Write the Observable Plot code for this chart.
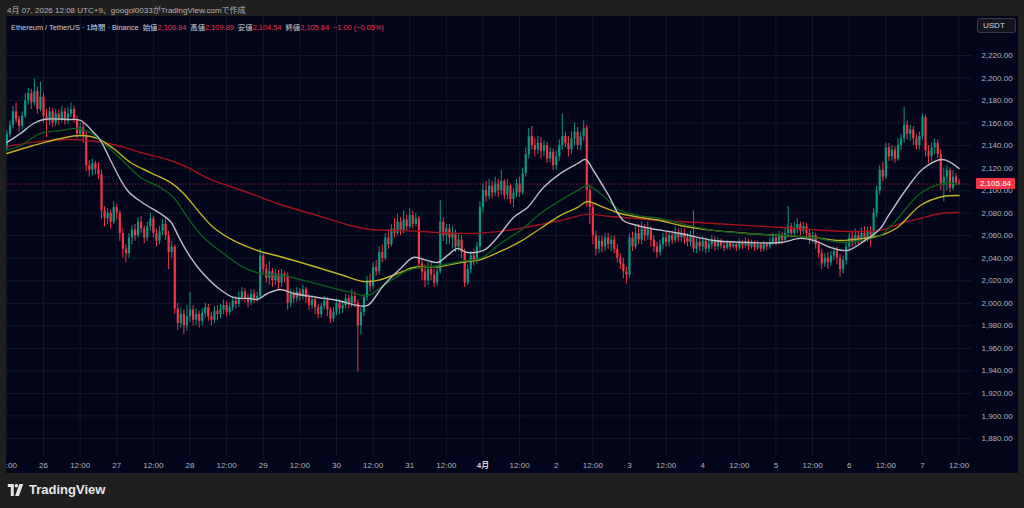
<!DOCTYPE html>
<html><head><meta charset="utf-8">
<script src="https://cdn.jsdelivr.net/npm/d3@7"></script>
<script src="https://cdn.jsdelivr.net/npm/@observablehq/plot@0.6"></script>
<style>
html,body{margin:0;padding:0;background:#1f1f1f;width:1024px;height:508px;overflow:hidden;}
body{font-family:"Liberation Sans","Noto Sans CJK JP",sans-serif;position:relative;}
#top{position:absolute;left:7px;top:4px;font-size:8px;color:#b4b4b4;white-space:nowrap;}
#panel{position:absolute;left:6px;top:16px;width:1012px;height:457px;background:#03051a;overflow:hidden;}
#legend{position:absolute;left:5px;top:5px;font-size:7.4px;color:#d1d4dc;white-space:nowrap;}
#legend .v{color:#f23645;margin-right:4px;}
#usdt{position:absolute;left:971px;top:2px;width:39px;height:15px;border:1px solid #3a3b45;border-radius:3px;background:#14151f;color:#d1d4dc;font-size:8px;line-height:13px;box-sizing:border-box;padding-left:5px;}
#badge{position:absolute;left:970px;width:39px;height:11px;background:#f23645;color:#fff;font-size:8px;line-height:11px;text-align:center;border-radius:1px;}
#footer{position:absolute;left:7px;top:482px;display:flex;align-items:center;color:#e6e6e6;font-size:13px;font-weight:bold;}
#footer svg{margin-right:5px;}
</style></head>
<body>
<div id="top">4月 07, 2026 12:08 UTC+9、googol0033がTradingView.comで作成</div>
<div id="panel">
  <div id="legend">Ethereum / TetherUS · 1時間 · Binance&nbsp;&nbsp;始値<span class="v">2,106.84</span>高値<span class="v">2,109.89</span>安値<span class="v">2,104.54</span>終値<span class="v">2,105.84</span><span class="v">−1.00 (−0.05%)</span></div>
  <div id="usdt">USDT</div>
</div>
<div id="footer"><svg width="17" height="12" viewBox="0 0 36 28"><path d="M0 0h14v28H7V7H0z" fill="#e6e6e6"/><circle cx="20" cy="4" r="4" fill="#e6e6e6"/><path d="M27 0h9L26 28h-9z" fill="#e6e6e6"/></svg>TradingView</div>
<script>
// ---- data (hour index 0 = 3/25 12:00, hourly candles) ----
const opens = [2138,2150,2158,2170,2163,2157,2166,2180,2186,2178,
2188,2172,2183,2166,2162,2170,2160,2168,2163,2170,
2162,2168,2172,2163,2150,2156,2148,2122,2118,2124,
2119,2114,2082,2075,2080,2072,2085,2080,2062,2048,
2044,2058,2065,2060,2072,2066,2058,2068,2075,2062,
2055,2064,2070,2060,2045,2050,1995,1982,1990,1980,
1988,1994,1985,1990,1984,1991,1996,1988,1985,1993,
1990,1994,1998,1992,1996,2002,1999,2005,2010,2004,
2001,2008,2004,2006,2042,2030,2022,2028,2020,2026,
2018,2026,2024,2000,2008,2004,2010,2006,2012,2005,
1998,2003,1996,1990,1997,2002,1994,1986,1992,2000,
1995,1998,2004,1999,2006,2000,1980,1992,2005,2020,
2015,2032,2028,2045,2040,2058,2052,2066,2062,2072,
2065,2074,2068,2078,2070,2075,2035,2028,2020,2030,
2025,2018,2028,2072,2060,2066,2058,2062,2050,2056,
2045,2018,2030,2042,2038,2050,2085,2100,2095,2104,
2098,2106,2100,2108,2096,2104,2092,2098,2106,2098,
2115,2132,2148,2140,2136,2142,2135,2140,2128,2134,
2122,2130,2140,2148,2142,2136,2146,2152,2140,2148,
2155,2100,2085,2060,2048,2055,2050,2058,2052,2056,
2048,2040,2035,2028,2025,2058,2050,2062,2056,2066,
2060,2065,2056,2050,2045,2052,2058,2054,2060,2056,
2062,2058,2062,2058,2054,2060,2048,2054,2050,2055,
2048,2052,2056,2050,2054,2051,2049,2053,2050,2052,
2049,2054,2051,2055,2050,2053,2049,2052,2048,2052,
2050,2054,2058,2054,2060,2056,2062,2068,2062,2066,
2070,2064,2068,2062,2056,2060,2052,2044,2035,2040,
2036,2042,2046,2040,2030,2038,2050,2058,2054,2060,
2056,2062,2058,2064,2060,2080,2100,2118,2112,2138,
2130,2136,2128,2140,2146,2158,2150,2154,2146,2140,
2148,2165,2135,2130,2138,2142,2132,2105,2112,2118,
2102,2112,2106.84];
const closes = [2150,2158,2170,2163,2157,2166,2180,2186,2178,2188,
2172,2183,2166,2162,2170,2160,2168,2163,2170,2162,
2168,2172,2163,2150,2156,2148,2122,2118,2124,2119,
2114,2082,2075,2080,2072,2085,2080,2062,2048,2044,
2058,2065,2060,2072,2066,2058,2068,2075,2062,2055,
2064,2070,2060,2045,2050,1995,1982,1990,1980,1988,
1994,1985,1990,1984,1991,1996,1988,1985,1993,1990,
1994,1998,1992,1996,2002,1999,2005,2010,2004,2001,
2008,2004,2006,2042,2030,2022,2028,2020,2026,2018,
2026,2024,2000,2008,2004,2010,2006,2012,2005,1998,
2003,1996,1990,1997,2002,1994,1986,1992,2000,1995,
1998,2004,1999,2006,2000,1980,1992,2005,2020,2015,
2032,2028,2045,2040,2058,2052,2066,2062,2072,2065,
2074,2068,2078,2070,2075,2035,2028,2020,2030,2025,
2018,2028,2072,2060,2066,2058,2062,2050,2056,2045,
2018,2030,2042,2038,2050,2085,2100,2095,2104,2098,
2106,2100,2108,2096,2104,2092,2098,2106,2098,2115,
2132,2148,2140,2136,2142,2135,2140,2128,2134,2122,
2130,2140,2148,2142,2136,2146,2152,2140,2148,2155,
2100,2085,2060,2048,2055,2050,2058,2052,2056,2048,
2040,2035,2028,2025,2058,2050,2062,2056,2066,2060,
2065,2056,2050,2045,2052,2058,2054,2060,2056,2062,
2058,2062,2058,2054,2060,2048,2054,2050,2055,2048,
2052,2056,2050,2054,2051,2049,2053,2050,2052,2049,
2054,2051,2055,2050,2053,2049,2052,2048,2052,2050,
2054,2058,2054,2060,2056,2062,2068,2062,2066,2070,
2064,2068,2062,2056,2060,2052,2044,2035,2040,2036,
2042,2046,2040,2030,2038,2050,2058,2054,2060,2056,
2062,2058,2064,2060,2080,2100,2118,2112,2138,2130,
2136,2128,2140,2146,2158,2150,2154,2146,2140,2148,
2165,2135,2130,2138,2142,2132,2105,2112,2118,2102,
2112,2106.84,2105.84];
const highs = [2153,2162,2175,2178,2166,2170,2186,2191,2190,2199,
2192,2196,2186,2172,2174,2173,2172,2171,2175,2173,
2174,2178,2175,2166,2160,2160,2152,2127,2128,2126,
2125,2118,2086,2084,2083,2090,2088,2082,2066,2052,
2062,2069,2070,2076,2077,2069,2072,2080,2077,2066,
2068,2074,2075,2064,2055,2052,2000,1996,1994,1998,
2010,1998,1995,1993,1995,2000,1999,1992,1997,1998,
1999,2003,2001,2000,2006,2006,2010,2014,2013,2008,
2012,2012,2010,2048,2045,2034,2037,2031,2030,2029,
2030,2028,2027,2012,2011,2014,2013,2016,2014,2008,
2007,2006,1999,2000,2006,2005,1996,1996,2004,2003,
2002,2008,2007,2012,2010,2003,1996,2008,2024,2026,
2036,2038,2050,2052,2062,2064,2070,2075,2079,2076,
2082,2078,2084,2082,2080,2077,2040,2034,2036,2036,
2030,2032,2091,2076,2070,2070,2068,2065,2062,2060,
2048,2034,2046,2048,2054,2090,2106,2108,2110,2108,
2112,2110,2118,2110,2110,2106,2102,2110,2112,2120,
2138,2155,2157,2146,2148,2147,2144,2143,2138,2137,
2135,2145,2168,2152,2148,2152,2160,2156,2152,2162,
2158,2105,2088,2064,2060,2060,2062,2062,2060,2060,
2052,2044,2040,2032,2062,2063,2068,2070,2072,2070,
2072,2068,2060,2054,2056,2062,2063,2064,2064,2068,
2066,2066,2066,2062,2064,2082,2058,2058,2059,2058,
2056,2060,2059,2058,2057,2054,2056,2055,2055,2054,
2057,2056,2058,2057,2056,2055,2055,2054,2055,2054,
2058,2062,2061,2064,2063,2067,2086,2071,2072,2075,
2072,2072,2071,2065,2063,2062,2055,2048,2044,2045,
2046,2050,2050,2043,2042,2055,2062,2063,2066,2064,
2067,2068,2068,2068,2084,2104,2122,2125,2142,2142,
2140,2139,2146,2150,2174,2162,2158,2157,2150,2152,
2168,2167,2140,2142,2146,2145,2136,2120,2122,2120,
2118,2115,2109.89];
const lows = [2135,2147,2155,2160,2152,2154,2164,2176,2172,2175,
2168,2170,2160,2147,2158,2156,2157,2158,2160,2158,
2159,2165,2160,2146,2147,2142,2117,2112,2113,2114,
2110,2075,2068,2070,2066,2070,2074,2055,2040,2036,
2040,2052,2055,2058,2062,2053,2055,2064,2058,2050,
2052,2060,2056,2030,2040,1990,1976,1978,1972,1975,
1983,1980,1980,1978,1980,1987,1984,1980,1982,1985,
1986,1990,1988,1989,1993,1995,1996,2002,2000,1996,
1998,2000,2001,2004,2026,2018,2016,2014,2016,2012,
2014,2018,1994,1996,2000,2001,2002,2003,2000,1994,
1995,1990,1986,1987,1994,1988,1982,1983,1989,1990,
1991,1995,1995,1996,1996,1939,1972,1988,2002,2010,
2012,2024,2025,2036,2038,2048,2050,2058,2060,2060,
2062,2064,2066,2066,2068,2030,2020,2014,2016,2020,
2014,2015,2026,2055,2052,2052,2048,2045,2046,2040,
2014,2016,2026,2033,2035,2046,2080,2090,2092,2093,
2095,2094,2096,2092,2092,2088,2085,2094,2094,2096,
2112,2128,2136,2130,2132,2128,2130,2124,2125,2118,
2118,2126,2136,2138,2130,2132,2140,2136,2136,2144,
2085,2070,2052,2042,2044,2045,2046,2048,2046,2044,
2036,2030,2022,2017,2022,2046,2048,2052,2052,2055,
2056,2050,2045,2040,2042,2048,2050,2050,2052,2053,
2054,2054,2052,2050,2050,2045,2044,2046,2046,2044,
2045,2048,2046,2047,2048,2046,2047,2047,2048,2046,
2047,2048,2049,2047,2048,2046,2047,2045,2046,2047,
2048,2051,2051,2052,2052,2054,2058,2058,2060,2062,
2060,2061,2058,2052,2053,2048,2040,2030,2032,2030,
2033,2038,2034,2023,2026,2034,2046,2050,2051,2052,
2053,2054,2054,2050,2058,2076,2096,2108,2110,2126,
2126,2124,2126,2136,2142,2145,2144,2140,2136,2136,
2145,2130,2124,2126,2132,2128,2100,2090,2100,2098,
2100,2104,2104.54];

// moving averages (hour, value)
const maWhiteHours = [0,4.5,8.7,12,19.9,24.1,28.4,30.7,34,39.5,44.8,50.3,53.6,56.9,60.2,63.4,69,74.2,79.8,82.1,85.4,89.6,93.9,101.8,108.3,114.9,118.2,123.4,129,133.2,137.8,141.1,144.4,147.6,150.9,156.2,160.7,166,170.6,175.8,181.4,187,189.6,192.2,196.8,202,206.6,210.9,220.7,231.5,242.7,253.5,260,264.3,270.8,275.4,280.7,286.2,288.5,295.1,300.3,306.6,312];
const maWhiteValues = [2142.8,2150.8,2159.6,2163.2,2163.2,2162.3,2151.6,2144.5,2126.8,2100.2,2088.6,2079.7,2072.6,2055.8,2040.7,2029.1,2014.1,2005.2,2004.3,2003.4,2008.7,2012.3,2008.7,2005.2,2002.5,1998.1,1998.1,2015.8,2030.9,2040.7,2038,2036.2,2042.5,2048.7,2045.1,2046.9,2058.4,2076.2,2085.1,2102.8,2115.3,2124.1,2127.7,2117.9,2097.5,2073.5,2069.1,2066.4,2062,2055.8,2054,2054,2057.6,2055.8,2048.7,2046.9,2054.9,2066.4,2076.2,2102.8,2119.7,2127.7,2119.7];
const maGreenHours = [0,4.5,11,17.6,23.1,27.4,30.7,37.2,43.8,50.3,54.6,59.2,64.4,71,77.5,83.1,90.6,97.2,106,112.6,118.2,123.4,131.3,135.5,142.1,148.6,155.2,161.7,168.3,174.8,181.4,187,190.2,194.5,201,206.6,214.1,220.7,231.5,242.7,253.5,264.3,273.1,280.7,286.2,290.5,299.3,306.6,312];
const maGreenValues = [2135.7,2140.1,2150.8,2153.4,2155.2,2151.6,2144.5,2128.6,2111.7,2102.8,2093.9,2076.2,2058.4,2044.2,2031.8,2026.5,2024.7,2020.3,2014.1,2009.6,2006.9,2015.8,2029.1,2031.8,2033.6,2037.1,2039.8,2053.1,2064.7,2079.7,2091.3,2100.2,2104.6,2097.5,2082.4,2078,2075.3,2070.9,2064.7,2062,2060.2,2058.4,2054,2055.8,2060.2,2070.9,2097.5,2106.4,2105.5];
const maYellowHours = [0,8.7,17.6,24.1,29.7,34.9,40.5,47,53.6,57.9,63.4,67.7,74.2,82.1,90.6,101.8,110.3,116.8,121.4,129,133.2,142.1,148.6,155.2,161.7,168.3,174.8,181.4,187,190.2,195.5,201,207.6,214.1,220.7,231.5,242.7,253.5,264.3,273.1,280.7,286.2,291.8,299.3,306.6,312];
const maYellowValues = [2133,2140.1,2146.3,2149,2146.3,2137.4,2125,2116.1,2107.3,2097.5,2079.7,2067.3,2055.8,2046.9,2040.7,2031.8,2024.7,2019.4,2020.3,2027.4,2031.8,2032.7,2036.2,2038.9,2046,2054.9,2066.4,2078,2085.1,2090.4,2085.1,2079.7,2076.2,2073.5,2069.1,2064.7,2062,2060.2,2058.4,2055.8,2057.6,2060.2,2067.3,2086.8,2094.8,2095.7];
const maRedHours = [0,11,19.9,26.4,34.9,43.8,53.6,59.2,63.4,66.7,79.8,90.6,101.8,112.6,119.1,129,142.1,152.9,164,174.8,181.4,190.2,197.8,214.1,231.5,253.5,275.4,286.2,293.8,299.3,306,312];
const maRedValues = [2139.2,2143.7,2145.4,2144.5,2141,2133.9,2126.8,2120.6,2114.4,2110,2097.5,2086.8,2077.9,2069.1,2065.5,2064.7,2062.9,2062,2064.7,2070,2073.5,2078.9,2077.1,2073.5,2070.9,2067.3,2063.8,2064.7,2071.8,2075.3,2079.7,2080.6];

const xTickHours = [0,12,24,36,48,60,72,84,96,108,120,132,144,156,168,180,192,204,216,228,240,252,264,276,288,300,312];
const xTickLabels = ["12:00","26","12:00","27","12:00","28","12:00","29","12:00","30","12:00","31","12:00","4月","12:00","2","12:00","3","12:00","4","12:00","5","12:00","6","12:00","7","12:00"];
const monthTickHour = 156;
const yTicks = [1880,1900,1920,1940,1960,1980,2000,2020,2040,2060,2080,2100,2120,2140,2160,2180,2200,2220];

// ---- build ----
const UP = "#089981", DOWN = "#f23645", GRID = "#14182a";
const FONT = '"Liberation Sans","Noto Sans CJK JP",sans-serif';
const candles = closes.map((c, i) => ({t: i, open: opens[i], high: highs[i], low: lows[i], close: c}));
const isUp = d => d.close >= d.open;
const series = (hs, vs) => hs.map((h, i) => ({t: h, v: vs[i]}));
const labelOf = new Map(xTickHours.map((h, i) => [h, xTickLabels[i]]));
const last = closes[closes.length - 1];

const plot = Plot.plot({
  width: 1012, height: 457,
  marginLeft: 0, marginRight: 46, marginTop: 0, marginBottom: 17,
  style: {background: "transparent", fontFamily: FONT, fontSize: "8px", color: "#b2b5be", overflow: "hidden"},
  x: {type: "linear", domain: [-0.13, 316.4]},
  y: {domain: [1864, 2254.6]},
  marks: [
    Plot.gridX(xTickHours, {stroke: GRID, strokeOpacity: 1}),
    Plot.gridY(yTicks, {stroke: GRID, strokeOpacity: 1}),
    Plot.ruleY([last], {stroke: DOWN, strokeOpacity: 0.75, strokeDasharray: "1,2"}),
    Plot.ruleX(candles, {filter: isUp, x: "t", y1: "low", y2: "high", stroke: UP, strokeWidth: 1}),
    Plot.ruleX(candles, {filter: d => !isUp(d), x: "t", y1: "low", y2: "high", stroke: DOWN, strokeWidth: 1}),
    Plot.ruleX(candles, {filter: isUp, x: "t", y1: "open", y2: "close", stroke: UP, strokeWidth: 2.2}),
    Plot.ruleX(candles, {filter: d => !isUp(d), x: "t", y1: "open", y2: "close", stroke: DOWN, strokeWidth: 2.2}),
    Plot.line(series(maRedHours, maRedValues), {x: "t", y: "v", stroke: "#a3121b", strokeWidth: 1.4, curve: "catmull-rom"}),
    Plot.line(series(maYellowHours, maYellowValues), {x: "t", y: "v", stroke: "#bfb523", strokeWidth: 1.4, curve: "catmull-rom"}),
    Plot.line(series(maGreenHours, maGreenValues), {x: "t", y: "v", stroke: "#0c5c1a", strokeWidth: 1.4, curve: "catmull-rom"}),
    Plot.line(series(maWhiteHours, maWhiteValues), {x: "t", y: "v", stroke: "#bdbdc8", strokeWidth: 1.4, curve: "catmull-rom"}),
    Plot.axisY(yTicks, {anchor: "right", tickSize: 0, tickPadding: 9, tickFormat: d3.format(",.2f"), fill: "#b2b5be", label: null}),
    Plot.axisX(xTickHours.filter(h => h !== monthTickHour), {anchor: "bottom", tickSize: 0, tickPadding: 6, tickFormat: h => labelOf.get(h), fill: "#b2b5be", label: null}),
    Plot.axisX([monthTickHour], {anchor: "bottom", tickSize: 0, tickPadding: 6, tickFormat: h => labelOf.get(h), fill: "#d1d4dc", fontWeight: "bold", label: null})
  ]
});
plot.style.position = "absolute";
plot.style.left = "0px";
plot.style.top = "0px";
const panel = document.getElementById("panel");
panel.insertBefore(plot, panel.firstChild);

const badge = document.createElement("div");
badge.id = "badge";
badge.textContent = d3.format(",.2f")(last);
badge.style.top = (plot.scale("y").apply(last) - 5.5) + "px";
panel.appendChild(badge);
</script>
</body></html>
